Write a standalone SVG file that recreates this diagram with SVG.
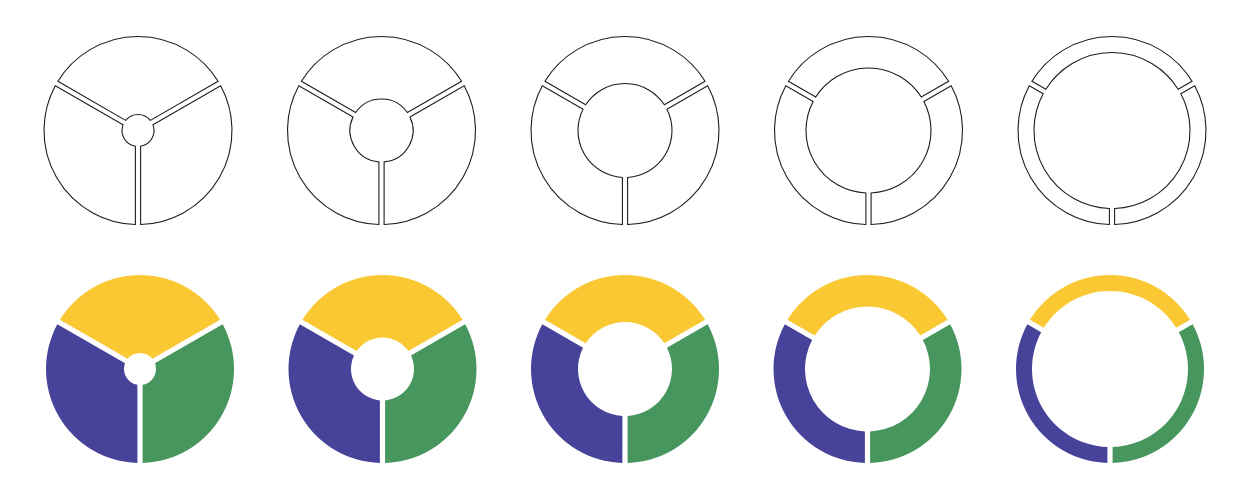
<svg xmlns="http://www.w3.org/2000/svg" width="1250" height="500" viewBox="0 0 1250 500">
<style>
.o{fill:#ffffff;stroke:#1e1e1e;stroke-width:1.1}
.y{fill:#F9C832}
.g{fill:#46965E}
.p{fill:#48439A}
</style>
<defs>
<path id="y1" d="M -80.075 -49.234 A 94 94 0 0 1 80.075 -49.234 L 12.372 -10.146 A 16 16 0 0 0 -12.372 -10.146 Z"/>
<path id="g1" d="M 82.675 -44.730 A 94 94 0 0 1 2.6 93.964 L 2.6 15.787 A 16 16 0 0 0 14.972 -5.642 Z"/>
<path id="p1" d="M -2.6 93.964 A 94 94 0 0 1 -82.675 -44.730 L -14.972 -5.642 A 16 16 0 0 0 -2.6 15.787 Z"/>
<path id="y2" d="M -80.075 -49.234 A 94 94 0 0 1 80.075 -49.234 L 25.887 -17.948 A 31.5 31.5 0 0 0 -25.887 -17.948 Z"/>
<path id="g2" d="M 82.675 -44.730 A 94 94 0 0 1 2.6 93.964 L 2.6 31.393 A 31.5 31.5 0 0 0 28.487 -13.444 Z"/>
<path id="p2" d="M -2.6 93.964 A 94 94 0 0 1 -82.675 -44.730 L -28.487 -13.444 A 31.5 31.5 0 0 0 -2.6 31.393 Z"/>
<path id="y3" d="M -80.075 -49.234 A 94 94 0 0 1 80.075 -49.234 L 39.341 -25.716 A 47 47 0 0 0 -39.341 -25.716 Z"/>
<path id="g3" d="M 82.675 -44.730 A 94 94 0 0 1 2.6 93.964 L 2.6 46.928 A 47 47 0 0 0 41.941 -21.212 Z"/>
<path id="p3" d="M -2.6 93.964 A 94 94 0 0 1 -82.675 -44.730 L -41.941 -21.212 A 47 47 0 0 0 -2.6 46.928 Z"/>
<path id="y4" d="M -80.075 -49.234 A 94 94 0 0 1 80.075 -49.234 L 52.780 -33.475 A 62.5 62.5 0 0 0 -52.780 -33.475 Z"/>
<path id="g4" d="M 82.675 -44.730 A 94 94 0 0 1 2.6 93.964 L 2.6 62.446 A 62.5 62.5 0 0 0 55.380 -28.971 Z"/>
<path id="p4" d="M -2.6 93.964 A 94 94 0 0 1 -82.675 -44.730 L -55.380 -28.971 A 62.5 62.5 0 0 0 -2.6 62.446 Z"/>
<path id="y5" d="M -80.075 -49.234 A 94 94 0 0 1 80.075 -49.234 L 66.213 -41.231 A 78 78 0 0 0 -66.213 -41.231 Z"/>
<path id="g5" d="M 82.675 -44.730 A 94 94 0 0 1 2.6 93.964 L 2.6 77.957 A 78 78 0 0 0 68.813 -36.727 Z"/>
<path id="p5" d="M -2.6 93.964 A 94 94 0 0 1 -82.675 -44.730 L -68.813 -36.727 A 78 78 0 0 0 -2.6 77.957 Z"/>
</defs>
<rect width="1250" height="500" fill="#ffffff"/>
<g id="outline-1" transform="translate(138,130.5)"><use href="#y1" class="o"/><use href="#g1" class="o"/><use href="#p1" class="o"/></g>
<g id="outline-2" transform="translate(381.5,130.5)"><use href="#y2" class="o"/><use href="#g2" class="o"/><use href="#p2" class="o"/></g>
<g id="outline-3" transform="translate(625,130.5)"><use href="#y3" class="o"/><use href="#g3" class="o"/><use href="#p3" class="o"/></g>
<g id="outline-4" transform="translate(868.5,130.5)"><use href="#y4" class="o"/><use href="#g4" class="o"/><use href="#p4" class="o"/></g>
<g id="outline-5" transform="translate(1112,130.5)"><use href="#y5" class="o"/><use href="#g5" class="o"/><use href="#p5" class="o"/></g>
<g id="filled-1" transform="translate(140,369)"><use href="#y1" class="y"/><use href="#g1" class="g"/><use href="#p1" class="p"/></g>
<g id="filled-2" transform="translate(382.5,369)"><use href="#y2" class="y"/><use href="#g2" class="g"/><use href="#p2" class="p"/></g>
<g id="filled-3" transform="translate(625,369)"><use href="#y3" class="y"/><use href="#g3" class="g"/><use href="#p3" class="p"/></g>
<g id="filled-4" transform="translate(867.5,369)"><use href="#y4" class="y"/><use href="#g4" class="g"/><use href="#p4" class="p"/></g>
<g id="filled-5" transform="translate(1110,369)"><use href="#y5" class="y"/><use href="#g5" class="g"/><use href="#p5" class="p"/></g>
</svg>
